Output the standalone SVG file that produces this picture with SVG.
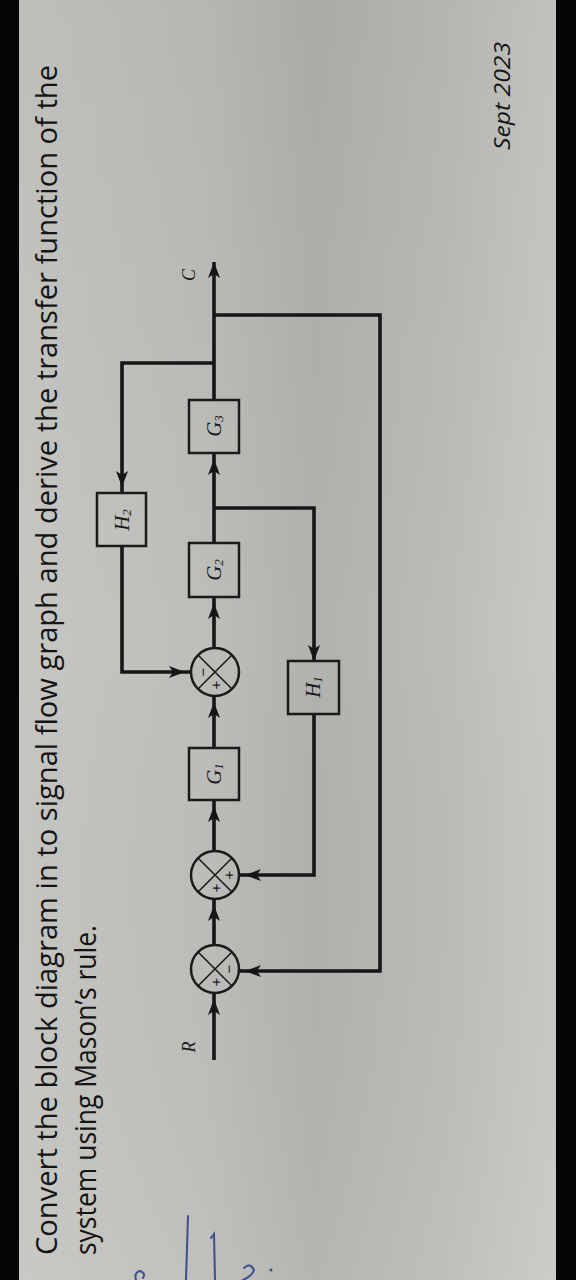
<svg xmlns="http://www.w3.org/2000/svg" width="576" height="1280" viewBox="0 0 576 1280">
  <defs>
    <linearGradient id="paper" x1="0" y1="0" x2="1" y2="0">
      <stop offset="0" stop-color="#c6c6c2"/>
      <stop offset="0.35" stop-color="#bdbdba"/>
      <stop offset="0.55" stop-color="#b1b1ae"/>
      <stop offset="0.8" stop-color="#bcbcb8"/>
      <stop offset="1" stop-color="#c9c9c5"/>
    </linearGradient>
    <linearGradient id="shade" x1="0" y1="0" x2="0" y2="1">
      <stop offset="0" stop-color="#000" stop-opacity="0.04"/>
      <stop offset="0.5" stop-color="#000" stop-opacity="0"/>
      <stop offset="1" stop-color="#fff" stop-opacity="0.05"/>
    </linearGradient>
    <marker id="arr" markerUnits="userSpaceOnUse" markerWidth="30" markerHeight="14" refX="22" refY="6" orient="auto">
      <path d="M0,0 L16,6 L0,12 L4,6 Z" fill="#161616"/>
    </marker>
    <marker id="arrEnd" markerUnits="userSpaceOnUse" markerWidth="20" markerHeight="14" refX="16" refY="6" orient="auto">
      <path d="M0,0 L16,6 L0,12 L4,6 Z" fill="#161616"/>
    </marker>
    <style>
      .box { fill: none; stroke: #1a1a1a; stroke-width: 2.5; }
      .sum { fill: none; stroke: #1a1a1a; stroke-width: 2.5; }
      .x { stroke: #1a1a1a; stroke-width: 1.6; }
      .wire { fill: none; stroke: #161616; stroke-width: 3.6; stroke-linejoin: miter; }
      .lbl { font-family: "Liberation Serif", serif; font-style: italic; font-size: 21px; fill: #1a1a1a; text-anchor: middle; dominant-baseline: central; }
      .sign { font-family: "Liberation Sans", sans-serif; font-size: 15px; fill: #1a1a1a; text-anchor: middle; dominant-baseline: central; }
      .q { font-family: "Open Sans", "Noto Sans", sans-serif; font-size: 30px; fill: #141414; }
      .ink { fill: none; stroke: #3d4f8e; stroke-width: 2; stroke-linecap: round; }
    </style>
  </defs>

  <!-- background -->
  <rect x="0" y="0" width="576" height="1280" fill="#050505"/>
  <rect x="19" y="0" width="537" height="1280" fill="url(#paper)"/>
  <rect x="19" y="0" width="537" height="1280" fill="url(#shade)"/>

  <!-- question text -->
  <text class="q" transform="translate(57,1255) rotate(-90)" textLength="1190" lengthAdjust="spacingAndGlyphs">Convert the block diagram in to signal flow graph and derive the transfer function of the</text>
  <text class="q" transform="translate(96,1255) rotate(-90)" textLength="330" lengthAdjust="spacingAndGlyphs">system using Mason’s rule.</text>
  <text class="q" transform="translate(510,150) rotate(-90)" style="font-size:22px;font-style:italic" textLength="108" lengthAdjust="spacingAndGlyphs">Sept 2023</text>

  <!-- connectors -->
  <g id="connectors">
    <path class="wire" d="M214,1060 L214,993" marker-end="url(#arr)"/>
    <path class="wire" d="M214,945 L214,899" marker-end="url(#arr)"/>
    <path class="wire" d="M214,851 L214,800" marker-end="url(#arr)"/>
    <path class="wire" d="M214,748 L214,696" marker-end="url(#arr)"/>
    <path class="wire" d="M214,648 L214,597" marker-end="url(#arr)"/>
    <path class="wire" d="M214,543 L214,453" marker-end="url(#arr)"/>
    <path class="wire" d="M214,400 L214,262" marker-end="url(#arrEnd)"/>
    <path class="wire" d="M214,508 L314,508 L314,661" marker-end="url(#arrEnd)"/>
    <path class="wire" d="M314,714 L314,875 L239,875" marker-end="url(#arr)"/>
    <path class="wire" d="M214,363 L122,363 L122,493" marker-end="url(#arr)"/>
    <path class="wire" d="M122,546 L122,672 L191,672" marker-end="url(#arr)"/>
    <path class="wire" d="M214,315 L380,315 L380,971 L239,971" marker-end="url(#arr)"/>
  </g>

  <!-- summing junctions -->
  <g id="sum1">
    <circle class="sum" cx="215" cy="969" r="24"/>
    <line class="x" x1="198" y1="952" x2="232" y2="986"/>
    <line class="x" x1="232" y1="952" x2="198" y2="986"/>
    <text class="sign" transform="translate(215,982) rotate(-90)">+</text>
    <text class="sign" transform="translate(228,969) rotate(-90)">−</text>
  </g>
  <g id="sum2">
    <circle class="sum" cx="215" cy="875" r="24"/>
    <line class="x" x1="198" y1="858" x2="232" y2="892"/>
    <line class="x" x1="232" y1="858" x2="198" y2="892"/>
    <text class="sign" transform="translate(215,888) rotate(-90)">+</text>
    <text class="sign" transform="translate(228,875) rotate(-90)">+</text>
  </g>
  <g id="sum3">
    <circle class="sum" cx="215" cy="672" r="24"/>
    <line class="x" x1="198" y1="655" x2="232" y2="689"/>
    <line class="x" x1="232" y1="655" x2="198" y2="689"/>
    <text class="sign" transform="translate(215,685) rotate(-90)">+</text>
    <text class="sign" transform="translate(202,672) rotate(-90)">−</text>
  </g>

  <!-- blocks -->
  <g id="G1">
    <rect class="box" x="189" y="748" width="50" height="52"/>
    <text class="lbl" transform="translate(214,774) rotate(-90)">G<tspan font-size="13" dy="4">1</tspan></text>
  </g>
  <g id="G2">
    <rect class="box" x="189" y="543" width="50" height="54"/>
    <text class="lbl" transform="translate(214,570) rotate(-90)">G<tspan font-size="13" dy="4">2</tspan></text>
  </g>
  <g id="G3">
    <rect class="box" x="189" y="400" width="50" height="53"/>
    <text class="lbl" transform="translate(214,426) rotate(-90)">G<tspan font-size="13" dy="4">3</tspan></text>
  </g>
  <g id="H1">
    <rect class="box" x="288" y="661" width="51" height="53"/>
    <text class="lbl" transform="translate(313,687) rotate(-90)">H<tspan font-size="13" dy="4">1</tspan></text>
  </g>
  <g id="H2">
    <rect class="box" x="97" y="493" width="49" height="53"/>
    <text class="lbl" transform="translate(122,520) rotate(-90)">H<tspan font-size="13" dy="4">2</tspan></text>
  </g>

  <!-- signal labels -->
  <g id="R">
    <text class="lbl" style="font-size:18px" transform="translate(189,1047) rotate(-90)">R</text>
  </g>
  <g id="C">
    <text class="lbl" style="font-size:18px" transform="translate(189,275) rotate(-90)">C</text>
  </g>

  <!-- pen marks -->
  <g id="marks">
    <path class="ink" d="M188,1216 L186,1280"/>
    <path class="ink" d="M211,1238 L214,1234 L215,1280"/>
    <path class="ink" d="M244,1268 Q250,1262 254,1270 Q252,1276 243,1280"/>
    <circle cx="271" cy="1270" r="1.5" fill="#3d4f8e"/>
    <path class="ink" d="M136,1280 Q134,1272 140,1271 Q146,1273 143,1278"/>
  </g>
</svg>
